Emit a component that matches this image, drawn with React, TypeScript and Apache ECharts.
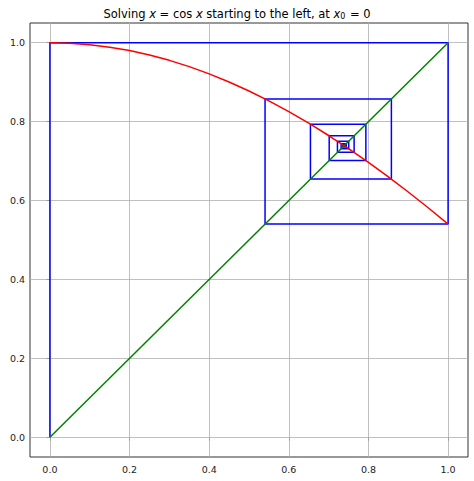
import React, { useEffect, useRef } from "react";
import * as echarts from "echarts";

const tickValues = [0, 0.2, 0.4, 0.6, 0.8, 1.0];
const iterates = [
  0, 1, 0.5403, 0.8576, 0.6543, 0.7935, 0.7014, 0.764, 0.7221, 0.7504, 0.7314,
  0.7442, 0.7356, 0.7414, 0.7375, 0.7401, 0.7384, 0.7396, 0.7388, 0.7393,
];
const cosX = [
  0, 0.05, 0.1, 0.15, 0.2, 0.25, 0.3, 0.35, 0.4, 0.45, 0.5, 0.55, 0.6, 0.65,
  0.7, 0.75, 0.8, 0.85, 0.9, 0.95, 1.0,
];
const cosY = [
  1.0, 0.99875, 0.995, 0.98877, 0.98007, 0.96891, 0.95534, 0.93937, 0.92106,
  0.90045, 0.87758, 0.85252, 0.82534, 0.79608, 0.76484, 0.73169, 0.69671,
  0.65998, 0.62161, 0.58168, 0.5403,
];
const diagX = [0, 1];
const diagY = [0, 1];

export default function App() {
  const ref = useRef<HTMLDivElement>(null);
  useEffect(() => {
    document.body.style.margin = "0";
    const chart = echarts.init(ref.current!, null, { renderer: "svg" });
    const cobweb: number[][] = [[iterates[0], 0]];
    for (let i = 0; i < iterates.length - 1; i++) {
      cobweb.push([iterates[i], iterates[i + 1]]);
      cobweb.push([iterates[i + 1], iterates[i + 1]]);
    }
    const font = "DejaVu Sans";
    const axisCommon = {
      type: "value" as const,
      min: -0.05,
      max: 1.05,
      splitLine: { show: false },
      axisLine: { show: false },
      axisTick: {
        show: true,
        length: 3.5,
        customValues: tickValues,
        lineStyle: { color: "#333", width: 0.8 },
      },
      axisLabel: {
        customValues: tickValues,
        formatter: (v: number) => v.toFixed(1),
        color: "#222",
        fontSize: 9.5,
        fontFamily: font,
        margin: 5,
      },
    };
    chart.setOption({
      animation: false,
      title: {
        text:
          "{n|Solving }{i|x}{n| = cos }{i|x}{n| starting to the left, at }{i|x}{s|0}{n| = 0}",
        left: "center",
        top: 2,
        textStyle: {
          fontWeight: "normal",
          rich: {
            n: { fontFamily: font, fontSize: 11.5, fontWeight: "normal", color: "#000" },
            i: {
              fontFamily: font,
              fontSize: 11.5,
              fontWeight: "normal",
              fontStyle: "italic",
              color: "#000",
            },
            s: {
              fontFamily: font,
              fontSize: 8,
              fontWeight: "normal",
              color: "#000",
              padding: [5, 1, 0, 0],
            },
          },
        },
      },
      grid: {
        left: 30,
        right: 6,
        top: 23,
        bottom: 24,
        show: true,
        borderColor: "#333",
        borderWidth: 1,
        backgroundColor: "transparent",
      },
      xAxis: { ...axisCommon, axisLabel: { ...axisCommon.axisLabel, margin: 7 } },
      yAxis: { ...axisCommon },
      series: [
        {
          type: "line",
          data: [],
          z: 1,
          silent: true,
          markLine: {
            z: 1,
            silent: true,
            symbol: "none",
            label: { show: false },
            lineStyle: { color: "#b0b0b0", width: 0.8, type: "solid" },
            data: [
              ...tickValues.map((v) => ({ xAxis: v })),
              ...tickValues.map((v) => ({ yAxis: v })),
            ],
          },
        },
        {
          type: "line",
          data: cobweb,
          showSymbol: false,
          z: 3,
          lineStyle: { color: "#0000ff", width: 1.5 },
        },
        {
          type: "line",
          data: diagX.map((x, i) => [x, diagY[i]]),
          showSymbol: false,
          z: 4,
          lineStyle: { color: "#008000", width: 1.5 },
        },
        {
          type: "line",
          data: cosX.map((x, i) => [x, cosY[i]]),
          showSymbol: false,
          z: 5,
          lineStyle: { color: "#ff0000", width: 1.5 },
        },
      ],
    });
    return () => chart.dispose();
  }, []);
  return <div ref={ref} style={{ width: 474, height: 481 }} />;
}
